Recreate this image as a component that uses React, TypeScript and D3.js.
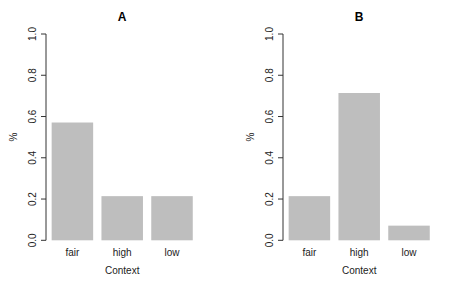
import React, { useEffect, useRef } from 'react';
import * as d3 from 'd3';

const categories = ['fair', 'high', 'low'];
const valuesA = [0.571, 0.214, 0.214];
const valuesB = [0.214, 0.714, 0.071];
const yTicks = [0, 0.2, 0.4, 0.6, 0.8, 1.0];
const panelTitles = ['A', 'B'];

const FONT = '"Liberation Sans", Arial, Helvetica, sans-serif';

export default function App() {
  const svgRef = useRef<SVGSVGElement>(null);

  useEffect(() => {
    if (!svgRef.current) return;
    const root = d3.select(svgRef.current);
    root.selectAll('*').remove();

    const top = 34;
    const bottom = 240.3;
    const y = d3.scaleLinear().domain([0, 1]).range([bottom, top]);

    // bar positions like R's barplot (width 1, space 0.2)
    const x = d3.scaleLinear().domain([0.064, 3.736]).range([46, 198.4]);

    const drawPanel = (values: number[], title: string, offset: number) => {
      const g = root.append('g').attr('transform', `translate(${offset},0)`);

      g.selectAll('rect')
        .data(values)
        .enter()
        .append('rect')
        .attr('x', (_, i) => x(0.2 + i * 1.2))
        .attr('width', x(1) - x(0))
        .attr('y', d => y(d))
        .attr('height', d => bottom - y(d))
        .attr('fill', '#bebebe');

      // y axis
      g.append('line')
        .attr('x1', 46).attr('x2', 46)
        .attr('y1', y(0)).attr('y2', y(1))
        .attr('stroke', '#333');

      yTicks.forEach(t => {
        g.append('line')
          .attr('x1', 41).attr('x2', 46)
          .attr('y1', y(t)).attr('y2', y(t))
          .attr('stroke', '#333');
        g.append('text')
          .attr('transform', `translate(32,${y(t)}) rotate(-90)`)
          .attr('text-anchor', 'middle')
          .attr('dominant-baseline', 'central')
          .attr('fill', '#222')
          .style('font-family', FONT)
          .style('font-size', '10px')
          .text(t.toFixed(1));
      });

      categories.forEach((c, i) => {
        g.append('text')
          .attr('x', x(0.7 + i * 1.2))
          .attr('y', 256)
          .attr('text-anchor', 'middle')
          .attr('fill', '#222')
          .style('font-family', FONT)
          .style('font-size', '10px')
          .text(c);
      });

      g.append('text')
        .attr('x', (46 + 198.4) / 2)
        .attr('y', 273.5)
        .attr('text-anchor', 'middle')
        .attr('fill', '#222')
        .style('font-family', FONT)
        .style('font-size', '10px')
        .text('Context');

      g.append('text')
        .attr('transform', `translate(13.5,${(top + bottom) / 2}) rotate(-90)`)
        .attr('text-anchor', 'middle')
        .attr('dominant-baseline', 'central')
        .attr('fill', '#222')
        .style('font-family', FONT)
        .style('font-size', '10px')
        .text('%');

      g.append('text')
        .attr('x', (46 + 198.4) / 2)
        .attr('y', 21)
        .attr('text-anchor', 'middle')
        .attr('fill', '#000')
        .style('font-family', FONT)
        .style('font-size', '12px')
        .style('font-weight', 'bold')
        .text(title);
    };

    drawPanel(valuesA, panelTitles[0], 0);
    drawPanel(valuesB, panelTitles[1], 237);
  }, []);

  return (
    <div style={{ position: 'absolute', left: 0, top: 0, background: '#fff' }}>
      <svg ref={svgRef} width={474} height={284} style={{ display: 'block' }} />
    </div>
  );
}
